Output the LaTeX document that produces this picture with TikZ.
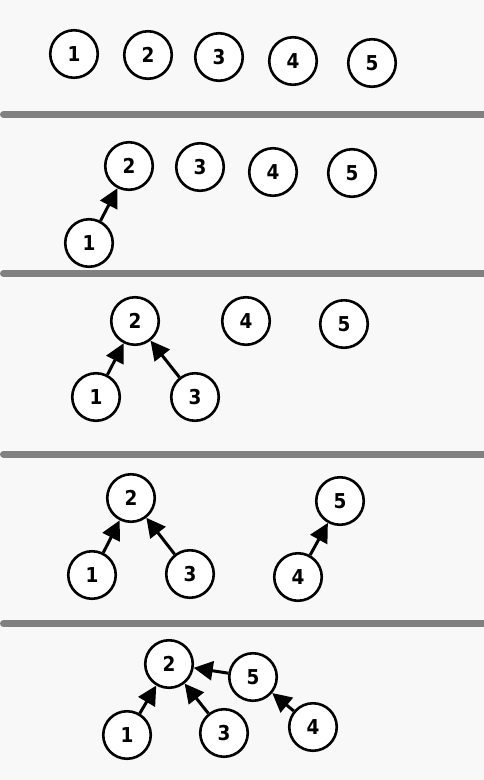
\documentclass[tikz,border=0pt]{standalone}
\usepackage{fontspec}
\setmainfont{DejaVu Sans Condensed}
\usetikzlibrary{arrows.meta}
\definecolor{bg}{HTML}{F8F8F8}
\definecolor{sep}{HTML}{808080}
\begin{document}
\begin{tikzpicture}[x=1pt,y=-1pt,
  vert/.style={circle,draw=black,line width=2.6pt,fill=white,minimum size=47.5pt,inner sep=0pt,
    font=\fontsize{20.5}{20.5}\selectfont\bfseries},
  edge/.style={line width=3pt,-{Triangle[length=19pt,width=19pt]}},
  sepbar/.style={sep,line width=7pt,line cap=round}]
\fill[bg] (0,0) rectangle (484,780);
\useasboundingbox (0,0) rectangle (484,780);
% separators
\coordinate (s1l) at (3.5,114.5); \coordinate (s1r) at (490,114.5);
\coordinate (s2l) at (3.5,273.5); \coordinate (s2r) at (490,273.5);
\coordinate (s3l) at (3.5,454); \coordinate (s3r) at (490,454);
\coordinate (s4l) at (3.5,623.5); \coordinate (s4r) at (490,623.5);
\draw[sepbar] (s1l) -- (s1r);
\draw[sepbar] (s2l) -- (s2r);
\draw[sepbar] (s3l) -- (s3r);
\draw[sepbar] (s4l) -- (s4r);
% panel 1
\node[vert] (a1) at (74,54) {1};
\node[vert] (a2) at (148,55) {2};
\node[vert] (a3) at (219,57) {3};
\node[vert] (a4) at (293,61) {4};
\node[vert] (a5) at (372,63) {5};
% panel 2
\node[vert] (b2) at (129,166) {2};
\node[vert] (b3) at (200,167) {3};
\node[vert] (b4) at (273,172) {4};
\node[vert] (b5) at (352,173) {5};
\node[vert] (b1) at (89,243) {1};
\draw[edge] (b1) -- (b2);
% panel 3
\node[vert] (c2) at (135,321) {2};
\node[vert] (c4) at (246,321) {4};
\node[vert] (c5) at (344,324) {5};
\node[vert] (c1) at (96,397) {1};
\node[vert] (c3) at (195,397) {3};
\draw[edge] (c1) -- (c2);
\draw[edge] (c3) -- (c2);
% panel 4
\node[vert] (d2) at (131,498) {2};
\node[vert] (d5) at (340,501) {5};
\node[vert] (d1) at (92,575) {1};
\node[vert] (d3) at (190,574) {3};
\node[vert] (d4) at (298,577) {4};
\draw[edge] (d1) -- (d2);
\draw[edge] (d3) -- (d2);
\draw[edge] (d4) -- (d5);
% panel 5
\node[vert] (e2) at (169,664) {2};
\node[vert] (e5) at (253,677) {5};
\node[vert] (e1) at (127,735) {1};
\node[vert] (e3) at (224,733) {3};
\node[vert] (e4) at (313,727) {4};
\draw[edge] (e1) -- (e2);
\draw[edge] (e3) -- (e2);
\draw[edge] (e5) -- (e2);
\draw[edge] (e4) -- (e5);
\end{tikzpicture}
\end{document}
